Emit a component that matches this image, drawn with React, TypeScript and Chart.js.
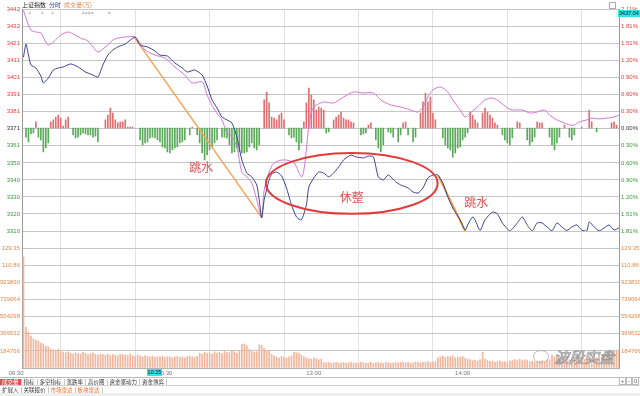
import React, { useEffect, useRef } from 'react';
import { Chart, registerables } from 'chart.js';

Chart.register(...registerables);

// ---------- axis tick labels (top to bottom) ----------
const priceTickLabels = ['3442', '3432', '3421', '3411', '3401', '3391', '3381', '3371', '3361', '3350', '3340', '3330', '3320', '3310'];
const pctTickLabels = ['2.11%', '1.81%', '1.51%', '1.20%', '0.90%', '0.60%', '0.30%', '0.00%', '0.30%', '0.60%', '0.90%', '1.20%', '1.51%', '1.81%'];
const volTickLabels = ['129.35', '110.86', '923830', '739064', '554298', '369532', '184766'];
const timeTickLabels: Record<number, string> = { 0: '09:30', 60: '10:30', 120: '13:00', 180: '14:00' };

const BASE_PRICE = 3371;
const PRICE_TOP = 3441.5;
const PRICE_BOTTOM = 3309.7;
const VOL_STEP = 184.766; // thousands of lots per grid step

// ---------- index price line (minute index, price) ----------
const priceT = [0, 1, 2, 3, 5, 7, 8, 10, 12, 14, 16, 19, 22, 25, 28, 30, 32, 34, 36, 38, 41, 43, 45, 47, 50, 53, 55, 58, 61, 64, 66, 69, 72, 74, 76, 78, 80, 82, 84, 86, 88, 90, 92, 94, 95, 96, 97, 99, 100, 102, 104, 106, 108, 110, 112, 114, 115, 117, 119, 121, 123, 125, 127, 129, 132, 134, 137, 139, 141, 143, 145, 147, 150, 152, 155, 157, 159, 161, 163, 165, 167, 169, 171, 173, 176, 178, 179, 181, 182, 184, 186, 189, 191, 193, 196, 199, 201, 203, 205, 207, 209, 211, 213, 215, 217, 219, 221, 223, 225, 227, 228, 230, 232, 234, 236, 238, 240];
const priceV = [3413.2, 3421.0, 3414.4, 3408.5, 3406.7, 3401.9, 3397.8, 3400.7, 3405.5, 3406.7, 3407.3, 3409.1, 3407.3, 3404.3, 3402.5, 3401.3, 3408.5, 3414.4, 3417.4, 3419.2, 3421.0, 3423.3, 3425.1, 3420.4, 3419.2, 3416.8, 3414.4, 3413.8, 3409.7, 3406.7, 3404.3, 3405.5, 3402.5, 3396.0, 3387.7, 3382.9, 3377.5, 3375.8, 3374.0, 3365.6, 3352.0, 3344.2, 3341.9, 3337.1, 3328.2, 3317.5, 3328.2, 3340.1, 3343.6, 3344.8, 3342.5, 3335.3, 3325.2, 3318.1, 3316.3, 3325.2, 3335.9, 3341.3, 3344.8, 3344.2, 3341.9, 3344.2, 3347.8, 3352.0, 3354.9, 3353.8, 3353.2, 3354.3, 3353.8, 3341.9, 3340.1, 3343.0, 3338.9, 3337.1, 3335.3, 3332.9, 3332.3, 3335.3, 3341.3, 3343.0, 3343.0, 3338.3, 3330.0, 3323.4, 3316.3, 3310.2, 3313.3, 3318.1, 3316.3, 3310.0, 3316.3, 3321.0, 3319.9, 3314.5, 3309.8, 3314.5, 3318.1, 3313.3, 3309.8, 3314.5, 3314.5, 3312.1, 3309.8, 3314.5, 3312.1, 3310.0, 3312.1, 3313.3, 3310.3, 3309.8, 3315.1, 3312.1, 3309.8, 3311.5, 3313.3, 3310.3, 3311.5];

// ---------- leading (violet) line ----------
const leadT = [0, 1, 3, 5, 7, 9, 10, 12, 15, 18, 20, 23, 26, 28, 30, 32, 34, 36, 38, 41, 45, 47, 49, 53, 57, 61, 65, 68, 72, 74, 77, 80, 82, 84, 86, 88, 90, 92, 94, 96, 97, 99, 101, 105, 109, 112, 113, 114, 115, 116, 117, 119, 121, 125, 129, 133, 137, 141, 144, 148, 152, 156, 159, 161, 163, 165, 168, 171, 173, 176, 178, 180, 183, 186, 189, 192, 195, 197, 201, 204, 207, 210, 212, 215, 217, 220, 222, 224, 227, 229, 232, 235, 238, 240];
const leadV = [3441.0, 3436.4, 3429.3, 3428.1, 3427.5, 3422.1, 3420.4, 3422.1, 3426.3, 3428.1, 3426.9, 3424.5, 3422.7, 3419.2, 3416.2, 3418.0, 3420.4, 3423.3, 3424.5, 3425.1, 3425.1, 3421.5, 3417.4, 3414.4, 3412.6, 3407.3, 3402.5, 3397.8, 3398.4, 3390.6, 3381.7, 3375.8, 3368.0, 3365.6, 3359.7, 3344.8, 3341.9, 3338.3, 3328.2, 3318.1, 3334.1, 3344.8, 3350.2, 3352.0, 3350.2, 3341.9, 3346.0, 3357.9, 3372.8, 3380.5, 3383.5, 3385.3, 3386.5, 3385.9, 3389.4, 3392.4, 3391.8, 3391.8, 3387.7, 3384.7, 3383.5, 3381.7, 3380.5, 3383.5, 3389.4, 3393.6, 3395.4, 3392.4, 3387.7, 3381.7, 3377.5, 3379.9, 3383.5, 3387.7, 3388.8, 3386.5, 3382.9, 3381.7, 3381.7, 3379.9, 3380.5, 3381.7, 3378.7, 3375.8, 3374.6, 3372.8, 3372.8, 3374.6, 3375.8, 3376.9, 3376.4, 3376.9, 3377.5, 3378.7];

// ---------- red / green strength bars (points above / below the base) ----------
const flowT = [1, 2, 3, 4, 5, 6, 7, 8, 9, 10, 11, 12, 13, 14, 15, 16, 17, 18, 20, 21, 22, 23, 24, 25, 26, 27, 28, 29, 30, 33, 34, 35, 36, 37, 38, 39, 40, 41, 42, 43, 44, 47, 48, 49, 50, 51, 52, 53, 54, 55, 56, 57, 58, 59, 60, 61, 62, 63, 64, 65, 67, 68, 70, 71, 72, 73, 74, 75, 76, 77, 78, 80, 81, 82, 83, 84, 85, 86, 87, 88, 89, 90, 91, 92, 93, 94, 95, 97, 98, 99, 100, 101, 102, 103, 104, 105, 107, 108, 109, 110, 111, 112, 113, 114, 115, 116, 117, 118, 119, 120, 121, 122, 123, 125, 126, 127, 128, 129, 130, 131, 132, 133, 136, 137, 138, 139, 140, 142, 143, 144, 145, 147, 148, 149, 151, 152, 153, 154, 155, 157, 158, 160, 161, 162, 163, 164, 165, 166, 169, 170, 171, 172, 173, 174, 175, 176, 177, 178, 179, 180, 181, 182, 183, 185, 186, 187, 188, 189, 190, 191, 193, 194, 195, 196, 197, 199, 200, 203, 204, 205, 206, 207, 208, 209, 212, 213, 214, 215, 216, 218, 220, 221, 222, 225, 228, 229, 231, 237, 238, 239];
const flowV = [-5.4, -8.3, -3.6, -3.0, 3.6, -5.4, -7.1, -14.3, -11.9, -8.9, 3.6, 4.8, 6.5, 7.7, 5.9, 1.2, 4.8, 6.5, -4.2, -5.9, -5.4, -4.2, -3.0, -3.6, -4.2, -4.2, -5.4, -4.8, -8.3, 4.8, 7.7, 11.9, 8.9, 4.8, 3.0, 3.6, 3.6, 4.8, 0.6, 0.6, 0.6, -7.1, -10.1, -8.9, -8.3, -5.9, -5.4, -5.9, -7.1, -8.3, -11.3, -11.9, -14.3, -14.9, -13.1, -11.9, -11.3, -8.9, -8.3, -7.1, -4.2, 0.6, -4.2, -8.9, -14.9, -19.0, -16.1, -13.1, -11.3, -8.9, -7.1, -5.4, -5.4, -5.9, -10.1, -14.9, -14.3, -11.9, -14.3, -14.9, -14.9, -14.3, -11.3, -8.9, -11.9, -13.1, -10.1, 16.7, 21.4, 14.9, 6.5, 5.9, 4.8, 7.7, 8.9, 4.8, -4.2, -5.9, -5.4, -8.3, -13.1, -8.9, 3.6, 14.9, 23.8, 19.6, 16.7, 10.7, 12.5, 11.9, 10.7, -3.0, -2.4, 4.8, 6.5, 7.7, 9.5, 5.9, 4.8, 4.8, 3.6, 3.0, -4.2, -3.6, -3.0, 1.8, 3.0, -7.1, -11.9, -14.3, -10.1, -2.4, -3.0, -5.4, -8.3, -4.2, 3.0, 3.6, -4.2, -8.3, -5.4, 8.9, 15.5, 20.8, 15.5, 18.4, 8.9, 4.8, -5.9, -10.1, -11.9, -13.1, -17.3, -14.9, -11.9, -11.3, -7.1, -5.4, -3.0, 9.5, 7.7, 4.8, 3.0, 8.9, 11.9, 9.5, 7.7, 5.9, 3.0, 1.8, -4.2, -7.1, -8.9, -10.1, -5.9, 3.6, 3.0, -7.1, -10.1, -8.3, -5.4, 3.6, 3.0, 3.0, -5.4, -10.1, -13.1, -8.9, -5.4, 1.8, -5.4, -7.1, -4.2, 0.6, 10.7, 3.6, -2.4, 3.0, 3.6, 1.8];

// ---------- minute volume (thousands), minute 0 .. 240 ----------
const volume = [
  1200,
  440, 390, 345, 313, 300, 292, 270, 260, 238, 227,
  205, 195, 184, 205, 180, 170, 165, 175, 160, 150,
  165, 155, 150, 170, 160, 145, 155, 165, 150, 140,
  150, 145, 140, 150, 135, 145, 140, 130, 150, 145,
  140, 135, 150, 130, 125, 140, 130, 120, 135, 125,
  120, 130, 115, 125, 120, 130, 115, 125, 120, 110,
  120, 125, 115, 120, 110, 125, 130, 120, 115, 125,
  160, 150, 170, 160, 165, 150, 175, 160, 170, 155,
  180, 170, 165, 185, 175, 160, 190, 255, 260, 240,
  200, 180, 170, 175, 250, 245, 210, 190, 180, 150,
  130, 120, 110, 125, 115, 105, 120, 130, 170, 165,
  160, 140, 120, 110, 100, 95, 110, 100, 90, 95,
  60, 55, 60, 50, 55, 60, 50, 55, 60, 50,
  55, 60, 50, 55, 50, 60, 55, 50, 55, 60,
  50, 55, 60, 55, 50, 60, 55, 50, 55, 60,
  55, 60, 65, 55, 60, 50, 55, 65, 60, 55,
  60, 65, 70, 60, 65, 70, 110, 120, 130, 115,
  125, 120, 130, 110, 120, 115, 125, 105, 95, 90,
  80, 85, 75, 90, 170, 95, 80, 70, 75, 65,
  70, 75, 65, 70, 60, 75, 80, 90, 85, 95,
  80, 90, 85, 70, 75, 65, 70, 75, 80, 70,
  85, 90, 140, 120, 130, 110, 150, 120, 100, 90,
  110, 95, 120, 100, 115, 90, 130, 105, 95, 120,
  110, 125, 100, 135, 150, 140, 170, 160, 180, 200,
];

// ---------- hand-drawn annotations (data coordinates) ----------
const trendA = { t: [44.6, 96.1], p: [3425.1, 3317.5] };
const trendB = { t: [167.2, 178.1], p: [3342.5, 3309.4] };
const ellipseNote = { t: 132.3, p: 3338.0, rt: 34.6, rp: 18.1 };
const textNotes = [
  { text: '跳水', t: 71.6, p: 3347.8 },
  { text: '休整', t: 132.3, p: 3329.4 },
  { text: '跳水', t: 182.5, p: 3326.4 },
];
const eventT = [2.5, 7.6, 11.7, 24.1, 25.3, 26.5, 27.7, 34.6];
const eventP = 3439.4;

const tabsRow1 = ['成交量', '指标', '多空指标', '涨跌率', '高价图', '资金驱动力', '资金博弈'];
const tabsRow2 = ['扩展入', '关联报价', '市场雷达', '板块雷达'];

const RED = '#e2413f';
const GREEN = '#3d9a3d';
const ORANGE_TXT = '#e58a4a';
const FONT = '"Liberation Sans", Arial, sans-serif';

const notesPlugin = {
  id: 'notes',
  afterDatasetsDraw(chart: any) {
    const { ctx } = chart;
    const x = chart.scales.x;
    const y = chart.scales.y;
    ctx.save();
    const cx = x.getPixelForValue(ellipseNote.t);
    const cy = y.getPixelForValue(ellipseNote.p);
    const rx = Math.abs(x.getPixelForValue(ellipseNote.t + ellipseNote.rt) - cx);
    const ry = Math.abs(y.getPixelForValue(ellipseNote.p + ellipseNote.rp) - cy);
    ctx.beginPath();
    ctx.ellipse(cx, cy, rx, ry, 0, 0, Math.PI * 2);
    ctx.strokeStyle = '#e23b3b';
    ctx.lineWidth = 2;
    ctx.stroke();
    ctx.font = '12px "Noto Sans CJK SC"';
    ctx.fillStyle = '#e05252';
    ctx.textAlign = 'center';
    ctx.textBaseline = 'middle';
    textNotes.forEach((n) => ctx.fillText(n.text, x.getPixelForValue(n.t), y.getPixelForValue(n.p)));
    ctx.restore();
  },
};

function priceTicks(scale: any) {
  const step = (PRICE_TOP - PRICE_BOTTOM) / (priceTickLabels.length - 1);
  scale.ticks = priceTickLabels.map((_, i) => ({ value: PRICE_BOTTOM + i * step }));
}
function volTicks(scale: any) {
  scale.ticks = Array.from({ length: volTickLabels.length + 2 }, (_, i) => ({ value: i * VOL_STEP }));
}
function sideColor(ctx: any) {
  const k = priceTickLabels.length - 1 - ctx.index;
  if (k < 7) return RED;
  if (k === 7) return '#333';
  return GREEN;
}
function volLabel(_v: any, i: number) {
  return i >= 1 && i <= volTickLabels.length ? volTickLabels[volTickLabels.length - i] : '';
}

export default function App() {
  const ref = useRef<HTMLCanvasElement>(null);

  useEffect(() => {
    const tickFont = { size: 6, family: FONT };
    const chart = new Chart(ref.current!, {
      type: 'line',
      data: {
        datasets: [
          {
            label: '上证指数',
            data: priceT.map((t, i) => ({ x: t, y: priceV[i] })),
            yAxisID: 'y',
            borderColor: '#3c4290',
            borderWidth: 1,
            pointRadius: 0,
            tension: 0.2,
          },
          {
            label: '领先',
            data: leadT.map((t, i) => ({ x: t, y: leadV[i] })),
            yAxisID: 'y',
            borderColor: '#d277d6',
            borderWidth: 1,
            pointRadius: 0,
            tension: 0.3,
          },
          {
            label: 'trendA',
            data: trendA.t.map((t, i) => ({ x: t, y: trendA.p[i] })),
            yAxisID: 'y',
            borderColor: '#f4a455',
            borderWidth: 1.5,
            pointRadius: 0,
          },
          {
            label: 'trendB',
            data: trendB.t.map((t, i) => ({ x: t, y: trendB.p[i] })),
            yAxisID: 'y',
            borderColor: '#f09a40',
            borderWidth: 2,
            pointRadius: 0,
          },
          {
            type: 'scatter',
            label: 'events',
            data: eventT.map((t) => ({ x: t, y: eventP })),
            yAxisID: 'y',
            pointStyle: 'crossRot',
            pointRadius: 1.3,
            borderColor: '#9a9a9a',
            borderWidth: 0.8,
          } as any,
          {
            type: 'bar',
            label: 'flow',
            data: flowT.map((t, i) => ({ x: t, y: BASE_PRICE + flowV[i] })),
            yAxisID: 'y',
            base: BASE_PRICE,
            barThickness: 1,
            grouped: false,
            backgroundColor: (c: any) => (flowV[c.dataIndex] >= 0 ? '#e07070' : '#5aaa5a'),
          } as any,
          {
            type: 'bar',
            label: '成交量',
            data: volume.map((v, i) => ({ x: i, y: v })),
            yAxisID: 'yv',
            barThickness: 1,
            grouped: false,
            backgroundColor: '#f3b59c',
          } as any,
        ],
      },
      options: {
        responsive: false,
        animation: false,
        devicePixelRatio: 1,
        layout: { padding: { top: 9.5, left: 0, right: 0, bottom: 0 } },
        plugins: { legend: { display: false }, tooltip: { enabled: false } },
        scales: {
          x: {
            type: 'linear',
            min: -0.6,
            max: 240,
            offset: false,
            afterBuildTicks: (s: any) => {
              s.ticks = Array.from({ length: 9 }, (_, i) => ({ value: i * 30 }));
            },
            afterFit: (s: any) => {
              s.height = 10;
            },
            grid: { color: '#e2e2e2', drawTicks: false },
            border: { display: true, color: '#b5b5b5' },
            ticks: {
              autoSkip: false,
              maxRotation: 0,
              align: 'end',
              padding: 1.5,
              color: '#777',
              font: { size: 6, family: FONT },
              callback: (v: any) => timeTickLabels[v as number] ?? '',
            },
          },
          // left stack: listed bottom panel first (left boxes are placed in reverse order)
          yv: {
            position: 'left',
            stack: 'left',
            stackWeight: 137,
            min: 0,
            max: VOL_STEP * (volTickLabels.length + 1),
            afterBuildTicks: volTicks,
            afterFit: (s: any) => {
              s.width = 22;
            },
            grid: { color: '#c6c6c6', drawTicks: false },
            border: { display: true, color: '#9a9a9a' },
            ticks: { autoSkip: false, padding: 2, font: tickFont, color: ORANGE_TXT, callback: volLabel },
          },
          y: {
            position: 'left',
            stack: 'left',
            stackWeight: 221.5,
            min: PRICE_BOTTOM,
            max: PRICE_TOP,
            afterBuildTicks: priceTicks,
            afterFit: (s: any) => {
              s.width = 22;
            },
            grid: { color: '#c6c6c6', drawTicks: false },
            border: { display: true, color: '#9a9a9a' },
            ticks: {
              autoSkip: false,
              padding: 2,
              font: tickFont,
              color: sideColor,
              callback: (_v: any, i: number) => priceTickLabels[priceTickLabels.length - 1 - i],
            },
          },
          yp: {
            position: 'right',
            stack: 'right',
            stackWeight: 221.5,
            min: PRICE_BOTTOM,
            max: PRICE_TOP,
            afterBuildTicks: priceTicks,
            afterFit: (s: any) => {
              s.width = 21;
            },
            grid: { display: false, drawTicks: false },
            border: { display: true, color: '#9a9a9a' },
            ticks: {
              autoSkip: false,
              padding: 2,
              font: tickFont,
              color: sideColor,
              callback: (_v: any, i: number) => pctTickLabels[pctTickLabels.length - 1 - i],
            },
          },
          yv2: {
            position: 'right',
            stack: 'right',
            stackWeight: 137,
            min: 0,
            max: VOL_STEP * (volTickLabels.length + 1),
            afterBuildTicks: volTicks,
            afterFit: (s: any) => {
              s.width = 21;
            },
            grid: { display: false, drawTicks: false },
            border: { display: true, color: '#9a9a9a' },
            ticks: { autoSkip: false, padding: 2, font: tickFont, color: ORANGE_TXT, callback: volLabel },
          },
        },
      } as any,
      plugins: [notesPlugin],
    });
    return () => chart.destroy();
  }, []);

  const tabStyle = (first: boolean, orange: boolean): React.CSSProperties => ({
    display: 'inline-block',
    padding: '0 2px',
    height: 7,
    lineHeight: '7px',
    borderRight: '1px solid #c8c8c8',
    color: first ? '#fff' : orange ? '#e8702a' : '#333',
    background: first ? '#e05050' : '#fff',
  });

  return (
    <div
      style={{
        position: 'fixed',
        left: 0,
        top: 0,
        width: 640,
        height: 396,
        background: '#fff',
        overflow: 'hidden',
        fontFamily: '"Noto Sans CJK SC", sans-serif',
      }}
    >
      <canvas ref={ref} width={640} height={378} style={{ position: 'absolute', left: 0, top: 0 }} />
      {/* header */}
      <div style={{ position: 'absolute', left: 22, top: 0, fontSize: 6, lineHeight: '9px', whiteSpace: 'nowrap' }}>
        <span style={{ color: '#222' }}>上证指数</span>
        <span style={{ color: '#2a3aa0', marginLeft: 3 }}>分时</span>
        <span style={{ color: ORANGE_TXT, marginLeft: 3 }}>成交量(万)</span>
      </div>
      <div style={{ position: 'absolute', left: 609, top: 2, width: 5, height: 5, border: '1px solid #aaa' }} />
      {/* crosshair value boxes */}
      <div
        style={{
          position: 'absolute',
          left: 618,
          top: 10,
          width: 22,
          height: 7,
          background: '#35e0e6',
          color: '#123',
          fontSize: 5.5,
          lineHeight: '7px',
          fontFamily: FONT,
          textAlign: 'center',
        }}
      >
        3437.04
      </div>
      <div
        style={{
          position: 'absolute',
          left: 147,
          top: 369,
          width: 15,
          height: 7,
          background: '#35e0e6',
          color: '#123',
          fontSize: 5.5,
          lineHeight: '7px',
          fontFamily: FONT,
          textAlign: 'center',
        }}
      >
        10:25
      </div>
      {/* watermark */}
      <div
        style={{
          position: 'absolute',
          left: 533,
          top: 350,
          width: 14,
          height: 11,
          border: '1.5px solid #b0b0b0',
          borderRadius: '50%',
          opacity: 0.8,
        }}
      />
      <div
        style={{
          position: 'absolute',
          left: 554,
          top: 346,
          fontSize: 15,
          fontStyle: 'italic',
          color: 'rgba(255,255,255,0.7)',
          WebkitTextStroke: '0.8px #9a9a9a',
          whiteSpace: 'nowrap',
        }}
      >
        波段实盘
      </div>
      {/* bottom tabs */}
      <div
        style={{
          position: 'absolute',
          left: 0,
          top: 377,
          width: 640,
          height: 7,
          borderTop: '1px solid #bdbdbd',
          fontSize: 5.5,
          whiteSpace: 'nowrap',
        }}
      >
        {tabsRow1.map((t, i) => (
          <span key={t} style={tabStyle(i === 0, false)}>
            {t}
          </span>
        ))}
        <span style={{ position: 'absolute', right: 1, top: 0, color: '#555', fontFamily: FONT }}>
          <span style={{ border: '1px solid #bbb', padding: '0 1px', lineHeight: '6px' }}>+</span>
          <span style={{ border: '1px solid #bbb', padding: '0 1px', lineHeight: '6px' }}>-</span>
          <span style={{ border: '1px solid #bbb', padding: '0 1px', lineHeight: '6px' }}>0</span>
        </span>
      </div>
      <div
        style={{
          position: 'absolute',
          left: 0,
          top: 385,
          width: 640,
          height: 7,
          borderTop: '1px solid #d0d0d0',
          borderBottom: '1px solid #d0d0d0',
          fontSize: 5.5,
          whiteSpace: 'nowrap',
        }}
      >
        {tabsRow2.map((t, i) => (
          <span key={t} style={tabStyle(false, i >= 2)}>
            {t}
          </span>
        ))}
      </div>
      <div style={{ position: 'absolute', left: 0, top: 393, width: 640, height: 3, background: '#eeeeee' }} />
    </div>
  );
}
